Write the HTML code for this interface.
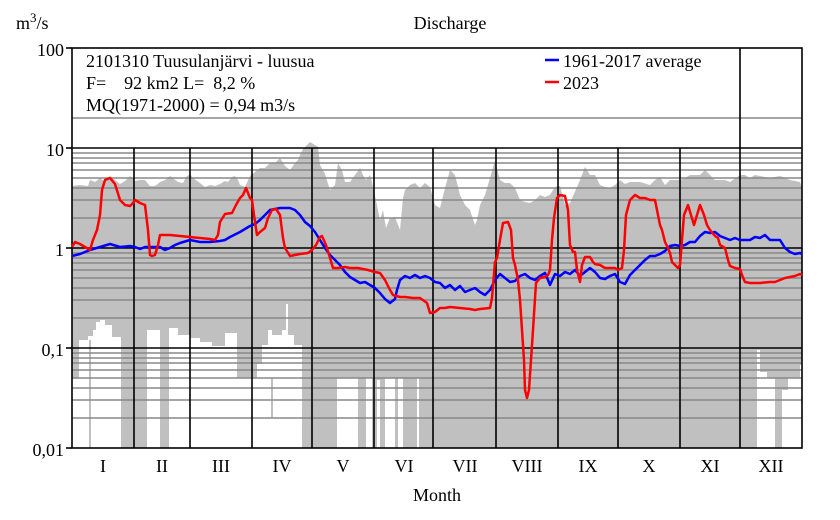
<!DOCTYPE html>
<html><head><meta charset="utf-8"><style>
html,body{margin:0;padding:0;background:#fff}
svg{display:block}
text{font-family:"Liberation Serif",serif;fill:#000}
</style></head><body>
<svg width="840" height="520" viewBox="0 0 840 520" xmlns="http://www.w3.org/2000/svg">
<rect width="840" height="520" fill="#fff"/>
<!-- gray envelope -->
<polygon fill="#c0c0c0" points="72,448 72,186 80,185 88,186 90,180 95,182 100,178 105,182 110,176 120,184 125,181 130,176 135,181 140,180 145,180 150,186 155,186 160,182 165,180 170,176 178,182 183,183 186,177 190,174 193,178 200,183 205,187 210,185 215,186 220,184 225,181 228,182 232,177 235,176 238,180 240,185 245,187 250,176 255,172 260,168 265,168 270,163 275,163 280,158 285,166 290,170 295,163 298,160 300,155 303,149 310,142 315,145 318,147 320,165 325,174 330,190 335,185 338,163 342,170 345,182 350,182 355,175 360,168 363,175 366,180 370,175 372,182 375,196 380,220 383,210 386,228 390,218 395,217 400,230 403,198 405,190 410,185 415,183 420,188 425,183 430,187 435,205 440,208 445,188 450,170 455,175 460,195 465,205 470,210 475,225 477,220 480,205 485,195 490,178 495,160 500,180 505,183 510,183 515,188 520,200 525,202 530,203 535,200 540,195 545,197 550,195 555,187 560,186 565,205 570,203 580,180 585,167 590,175 595,175 600,185 605,187 610,188 615,185 620,180 625,184 630,182 640,182 650,185 655,180 660,177 665,185 670,180 680,180 685,178 690,175 700,175 705,170 710,175 715,180 720,180 725,180 730,182 740,175 745,175 750,178 755,175 760,176 770,178 780,176 790,180 800,182 802,188 802,448"/>
<g fill="#fff">
<rect x="72" y="378" width="7" height="70"/>
<rect x="79" y="340" width="9" height="108"/><rect x="88" y="336" width="5" height="112"/><rect x="93" y="330" width="3" height="118"/><rect x="96" y="322" width="4" height="126"/><rect x="100" y="320" width="5" height="128"/><rect x="105" y="325" width="7" height="123"/><rect x="112" y="337" width="9" height="111"/>
<rect x="147" y="330" width="13" height="118"/><rect x="169" y="328" width="9" height="120"/><rect x="178" y="335" width="12" height="113"/>
<rect x="190" y="338" width="10" height="110"/><rect x="200" y="342" width="12" height="106"/><rect x="212" y="346" width="13" height="102"/><rect x="225" y="333" width="12" height="115"/><rect x="237" y="378" width="20" height="70"/>
<rect x="257" y="364" width="5" height="84"/><rect x="262" y="345" width="6" height="103"/><rect x="268" y="330" width="4" height="118"/><rect x="272" y="335" width="10" height="113"/><rect x="282" y="330" width="4" height="118"/><rect x="286" y="304" width="2" height="144"/><rect x="288" y="335" width="6" height="113"/><rect x="294" y="345" width="8" height="103"/>
<rect x="337" y="378" width="21" height="70"/><rect x="366" y="378" width="6" height="70"/>
<rect x="377" y="380" width="3" height="68"/><rect x="385" y="378" width="10" height="70"/><rect x="398" y="378" width="5" height="70"/><rect x="417" y="378" width="2" height="70"/>
<rect x="757" y="350" width="3" height="98"/><rect x="760" y="372" width="7" height="76"/><rect x="767" y="378" width="8" height="70"/><rect x="782" y="390" width="6" height="58"/><rect x="788" y="378" width="12" height="70"/><rect x="800" y="365" width="2" height="83"/>
</g>
<line x1="90" y1="340" x2="90" y2="448" stroke="#c0c0c0" stroke-width="2"/>
<line x1="272" y1="378" x2="272" y2="418" stroke="#c0c0c0" stroke-width="2"/>
<!-- minor grid -->
<g stroke="#888" stroke-width="1.5">
<line x1="72" y1="118" x2="802" y2="118"/>
<line x1="72" y1="218" x2="802" y2="218"/><line x1="72" y1="200" x2="802" y2="200"/><line x1="72" y1="188" x2="802" y2="188"/><line x1="72" y1="178" x2="802" y2="178"/><line x1="72" y1="170" x2="802" y2="170"/><line x1="72" y1="163" x2="802" y2="163"/><line x1="72" y1="158" x2="802" y2="158"/><line x1="72" y1="153" x2="802" y2="153"/>
<line x1="72" y1="318" x2="802" y2="318"/><line x1="72" y1="300" x2="802" y2="300"/><line x1="72" y1="288" x2="802" y2="288"/><line x1="72" y1="278" x2="802" y2="278"/><line x1="72" y1="270" x2="802" y2="270"/><line x1="72" y1="263" x2="802" y2="263"/><line x1="72" y1="258" x2="802" y2="258"/><line x1="72" y1="253" x2="802" y2="253"/>
<line x1="72" y1="418" x2="802" y2="418"/><line x1="72" y1="400" x2="802" y2="400"/><line x1="72" y1="388" x2="802" y2="388"/><line x1="72" y1="378" x2="802" y2="378"/><line x1="72" y1="370" x2="802" y2="370"/><line x1="72" y1="363" x2="802" y2="363"/><line x1="72" y1="358" x2="802" y2="358"/><line x1="72" y1="353" x2="802" y2="353"/>
</g>
<!-- major grid -->
<g stroke="#000" stroke-width="1.6">
<line x1="72" y1="148" x2="802" y2="148"/><line x1="72" y1="248" x2="802" y2="248"/><line x1="72" y1="348" x2="802" y2="348"/>
<line x1="134" y1="148" x2="134" y2="448"/><line x1="190" y1="148" x2="190" y2="448"/><line x1="252" y1="148" x2="252" y2="448"/><line x1="312" y1="148" x2="312" y2="448"/><line x1="374" y1="148" x2="374" y2="448"/><line x1="433" y1="148" x2="433" y2="448"/><line x1="496" y1="148" x2="496" y2="448"/><line x1="558" y1="148" x2="558" y2="448"/><line x1="618" y1="148" x2="618" y2="448"/><line x1="680" y1="148" x2="680" y2="448"/><line x1="740" y1="48" x2="740" y2="448"/>
<rect x="72" y="48" width="730" height="400" fill="none"/>
<line x1="66" y1="48" x2="72" y2="48"/><line x1="66" y1="148" x2="72" y2="148"/><line x1="66" y1="248" x2="72" y2="248"/><line x1="66" y1="348" x2="72" y2="348"/><line x1="66" y1="448" x2="72" y2="448"/>
</g>
<!-- series -->
<polyline fill="none" stroke="#0000ff" stroke-width="2.5" stroke-linejoin="round" points="72,256 80,254 90,250 100,247 110,244 120,247 130,246 135,247 140,249 145,247 150,247 160,247 165,250 170,248 175,245 180,243 190,240 200,242 210,242 220,241 225,240 230,237 240,232 250,226 255,224 260,220 265,215 270,210 275,209 280,208 290,208 295,210 300,215 305,222 310,226 315,232 320,240 325,248 330,255 335,260 340,265 345,272 350,277 355,280 360,283 365,282 370,285 375,288 380,293 385,299 390,303 395,299 397,290 400,280 405,276 410,278 415,275 420,278 425,276 430,278 435,282 440,283 445,288 450,285 455,290 460,286 465,292 470,290 475,288 480,292 485,295 490,290 495,280 500,274 505,278 510,282 515,281 520,276 525,274 530,278 535,280 540,276 545,273 548,280 550,285 555,274 560,276 565,272 570,274 575,270 580,276 585,272 590,268 595,272 600,278 605,279 610,276 615,274 620,282 625,284 630,275 635,270 640,265 645,260 650,256 655,256 660,254 665,251 670,246 675,245 680,246 685,245 690,242 695,242 700,236 705,232 710,233 715,232 720,236 725,238 730,240 735,238 740,240 745,240 750,240 755,237 760,238 765,235 770,240 775,240 780,240 785,248 790,252 795,254 800,253 802,254"/>
<polyline fill="none" stroke="#ff0000" stroke-width="2.5" stroke-linejoin="round" points="72,247 75,242 80,244 85,247 90,250 93,240 97,230 100,215 102,190 105,180 110,178 115,184 120,200 125,205 130,206 133,203 135,200 140,203 145,205 148,230 150,255 152,256 155,255 158,245 160,235 170,235 180,236 190,237 200,238 210,239 215,240 218,235 220,222 225,214 232,213 236,205 240,198 243,195 246,188 250,198 252,200 254,215 257,235 260,232 265,228 268,218 272,210 276,209 280,215 283,238 285,248 290,256 300,254 308,253 312,250 316,245 320,237 322,236 326,245 330,258 333,268 338,268 345,267 350,268 358,268 368,270 375,272 380,273 385,280 390,290 393,295 400,297 405,297 413,298 420,298 427,303 430,313 435,312 440,308 445,308 450,307 460,308 470,309 475,310 480,309 490,308 492,298 495,262 497,258 500,240 503,223 508,222 511,230 513,258 515,265 518,280 520,300 522,330 524,360 525,390 527,398 529,390 531,360 533,330 536,283 540,278 545,277 548,275 550,270 552,240 554,218 557,198 560,195 565,196 568,210 570,245 573,252 575,252 577,270 580,282 582,265 585,257 590,257 593,262 595,264 600,265 605,268 610,268 615,268 618,270 622,268 624,250 626,215 630,200 635,195 640,198 645,198 650,200 655,200 658,215 660,225 662,230 665,242 668,248 670,253 672,262 675,265 678,268 680,265 682,240 684,215 688,205 691,215 694,225 697,215 700,205 704,215 707,225 710,230 715,236 718,238 720,245 725,248 728,260 730,266 735,268 740,269 742,275 745,282 750,283 760,283 770,282 775,282 780,280 785,278 790,277 795,276 800,274 802,275"/>
<!-- texts -->
<text x="450" y="29" font-size="18" text-anchor="middle">Discharge</text>
<text x="16" y="29" font-size="18">m<tspan font-size="13" dy="-7">3</tspan><tspan dy="7">/s</tspan></text>
<g font-size="18" text-anchor="end">
<text x="64" y="56">100</text><text x="64" y="156">10</text><text x="64" y="256">1</text><text x="64" y="356">0,1</text><text x="64" y="456">0,01</text>
</g>
<g font-size="18" text-anchor="middle">
<text x="103" y="472">I</text><text x="162" y="472">II</text><text x="221" y="472">III</text><text x="282" y="472">IV</text><text x="343" y="472">V</text><text x="404" y="472">VI</text><text x="465" y="472">VII</text><text x="527" y="472">VIII</text><text x="588" y="472">IX</text><text x="649" y="472">X</text><text x="710" y="472">XI</text><text x="771" y="472">XII</text>
<text x="437" y="501">Month</text>
</g>
<g font-size="18">
<text x="86" y="67">2101310 Tuusulanjärvi - luusua</text>
<text x="86" y="89" xml:space="preserve">F=    92 km2 L=  8,2 %</text>
<text x="86" y="111">MQ(1971-2000) = 0,94 m3/s</text>
<text x="563" y="67">1961-2017 average</text>
<text x="563" y="89">2023</text>
</g>
<line x1="545" y1="60" x2="559" y2="60" stroke="#0000ff" stroke-width="2.5"/>
<line x1="545" y1="82" x2="559" y2="82" stroke="#ff0000" stroke-width="2.5"/>
</svg>
</body></html>
